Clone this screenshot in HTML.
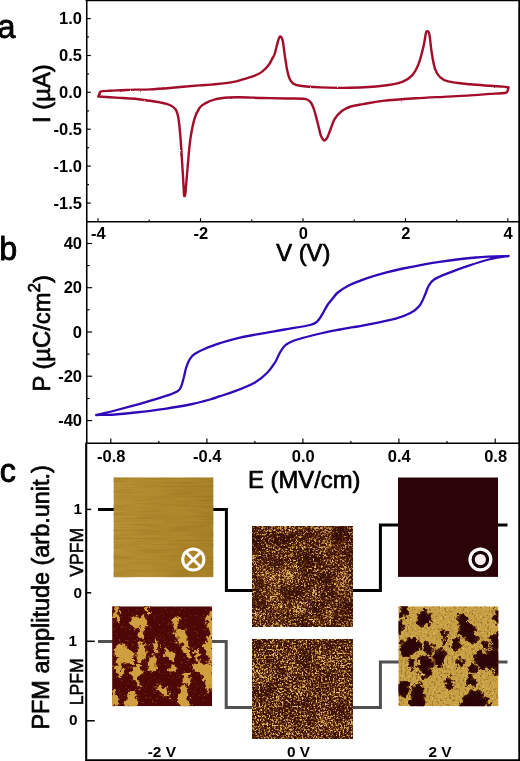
<!DOCTYPE html>
<html lang="en"><head><meta charset="utf-8"><title>Figure</title>
<style>html,body{margin:0;padding:0;background:#fff}svg{display:block}text{font-family:"Liberation Sans", Arial, sans-serif;fill:#000}.t{font-weight:bold;font-size:16.5px}.l{font-size:23.8px;stroke:#000;stroke-width:0.7px;stroke-linejoin:round}.p{font-size:32.3px;stroke:#000;stroke-width:0.8px;stroke-linejoin:round}.s{font-weight:bold;font-size:15.4px}.m{font-size:17.6px;stroke:#000;stroke-width:0.55px}</style>
</head><body>
<svg width="520" height="761" viewBox="0 0 520 761">
<defs>
<linearGradient id="gGold" x1="0" y1="0" x2="1" y2="0"><stop offset="0" stop-color="#B99134"/><stop offset="0.5" stop-color="#B28A2E"/><stop offset="1" stop-color="#AA8228"/></linearGradient>
<radialGradient id="gShadeA" cx="0.2" cy="0.6" r="0.9"><stop offset="0" stop-color="#E0A840" stop-opacity="0.08"/><stop offset="0.55" stop-color="#804010" stop-opacity="0"/><stop offset="1" stop-color="#300000" stop-opacity="0.2"/></radialGradient>
<filter id="fStreak" x="0" y="0" width="100%" height="100%" color-interpolation-filters="sRGB"><feTurbulence type="fractalNoise" baseFrequency="0.03 0.5" numOctaves="2" seed="3"/><feColorMatrix type="matrix" values="0 0 0 0 0.45  0 0 0 0 0.32  0 0 0 0 0.05  2.4 0 0 0 -0.9"/></filter>
<filter id="fRough" x="-5%" y="-5%" width="110%" height="110%" color-interpolation-filters="sRGB"><feTurbulence type="fractalNoise" baseFrequency="0.2" numOctaves="3" seed="7" result="t"/><feDisplacementMap in="SourceGraphic" in2="t" scale="11" xChannelSelector="R" yChannelSelector="G"/></filter>
<filter id="fSpeck" x="0" y="0" width="100%" height="100%" color-interpolation-filters="sRGB"><feTurbulence type="fractalNoise" baseFrequency="0.45" numOctaves="2" seed="31"/><feColorMatrix type="matrix" values="0 0 0 0 0.78  0 0 0 0 0.5  0 0 0 0 0.15  7 0 0 0 -4.5"/></filter>
<filter id="fSpeck3" x="0" y="0" width="100%" height="100%" color-interpolation-filters="sRGB"><feTurbulence type="fractalNoise" baseFrequency="0.5" numOctaves="2" seed="77"/><feColorMatrix type="matrix" values="0 0 0 0 1  0 0 0 0 0.93  0 0 0 0 0.7  8 0 0 0 -5.3"/></filter>
<filter id="fSpeck2" x="0" y="0" width="100%" height="100%" color-interpolation-filters="sRGB"><feTurbulence type="fractalNoise" baseFrequency="0.45" numOctaves="2" seed="41"/><feColorMatrix type="matrix" values="0 0 0 0 0.42  0 0 0 0 0.2  0 0 0 0 0.05  -5 0 0 0 2.3"/></filter>
<filter id="fNoiseA" x="0" y="0" width="100%" height="100%" color-interpolation-filters="sRGB"><feTurbulence type="fractalNoise" baseFrequency="0.47" numOctaves="1" seed="11"/><feColorMatrix type="matrix" values="1 0 0 0 0  1 0 0 0 0  1 0 0 0 0  0 0 0 0 1" result="a"/><feTurbulence type="fractalNoise" baseFrequency="0.83" numOctaves="1" seed="5"/><feColorMatrix type="matrix" values="1 0 0 0 0  1 0 0 0 0  1 0 0 0 0  0 0 0 0 1" result="b"/><feTurbulence type="fractalNoise" baseFrequency="0.06" numOctaves="2" seed="3"/><feColorMatrix type="matrix" values="-1 0 0 0 1  -1 0 0 0 1  -1 0 0 0 1  0 0 0 0 1" result="c"/><feComposite in="a" in2="b" operator="arithmetic" k1="0" k2="0.5" k3="0.5" k4="0" result="ab"/><feComposite in="ab" in2="c" operator="arithmetic" k1="0" k2="1" k3="0.3" k4="-0.15"/><feComponentTransfer><feFuncR type="table" tableValues="0.18 0.18 0.18 0.18 0.18 0.19 0.19 0.19 0.19 0.19 0.19 0.19 0.19 0.20 0.20 0.20 0.20 0.21 0.24 0.27 0.32 0.40 0.50 0.61 0.73 0.81 0.86 0.90 0.90 0.91 0.91 0.92 0.92 0.93 0.93 0.94 0.94 0.95 0.95 0.96 0.96"/><feFuncG type="table" tableValues="0.04 0.04 0.04 0.04 0.04 0.04 0.04 0.04 0.04 0.05 0.05 0.05 0.05 0.05 0.05 0.05 0.05 0.06 0.08 0.10 0.14 0.20 0.28 0.40 0.53 0.63 0.69 0.75 0.77 0.77 0.78 0.79 0.80 0.81 0.81 0.82 0.83 0.84 0.84 0.85 0.86"/><feFuncB type="table" tableValues="0.02 0.02 0.02 0.02 0.02 0.02 0.02 0.02 0.02 0.02 0.02 0.02 0.02 0.02 0.02 0.02 0.02 0.02 0.03 0.03 0.05 0.07 0.11 0.17 0.25 0.31 0.37 0.43 0.45 0.46 0.48 0.49 0.50 0.51 0.53 0.54 0.55 0.56 0.58 0.59 0.60"/><feFuncA type="linear" slope="0" intercept="1"/></feComponentTransfer></filter>
<filter id="fNoiseB" x="0" y="0" width="100%" height="100%" color-interpolation-filters="sRGB"><feTurbulence type="fractalNoise" baseFrequency="0.51" numOctaves="1" seed="23"/><feColorMatrix type="matrix" values="1 0 0 0 0  1 0 0 0 0  1 0 0 0 0  0 0 0 0 1" result="a"/><feTurbulence type="fractalNoise" baseFrequency="0.79" numOctaves="1" seed="8"/><feColorMatrix type="matrix" values="1 0 0 0 0  1 0 0 0 0  1 0 0 0 0  0 0 0 0 1" result="b"/><feTurbulence type="fractalNoise" baseFrequency="0.06" numOctaves="2" seed="9"/><feColorMatrix type="matrix" values="1 0 0 0 0  1 0 0 0 0  1 0 0 0 0  0 0 0 0 1" result="c"/><feComposite in="a" in2="b" operator="arithmetic" k1="0" k2="0.5" k3="0.5" k4="0" result="ab"/><feComposite in="ab" in2="c" operator="arithmetic" k1="0" k2="1" k3="0.2" k4="-0.1"/><feComponentTransfer><feFuncR type="table" tableValues="0.18 0.18 0.18 0.18 0.18 0.19 0.19 0.19 0.19 0.19 0.19 0.19 0.19 0.20 0.20 0.20 0.20 0.22 0.25 0.29 0.35 0.43 0.54 0.66 0.76 0.83 0.87 0.90 0.91 0.91 0.91 0.92 0.92 0.93 0.93 0.94 0.94 0.95 0.95 0.96 0.96"/><feFuncG type="table" tableValues="0.04 0.04 0.04 0.04 0.04 0.04 0.04 0.04 0.04 0.05 0.05 0.05 0.05 0.05 0.05 0.05 0.05 0.06 0.08 0.12 0.16 0.22 0.33 0.45 0.57 0.66 0.72 0.76 0.77 0.78 0.78 0.79 0.80 0.81 0.81 0.82 0.83 0.84 0.84 0.85 0.86"/><feFuncB type="table" tableValues="0.02 0.02 0.02 0.02 0.02 0.02 0.02 0.02 0.02 0.02 0.02 0.02 0.02 0.02 0.02 0.02 0.02 0.02 0.03 0.04 0.05 0.08 0.13 0.20 0.27 0.34 0.40 0.44 0.46 0.47 0.48 0.49 0.50 0.52 0.53 0.54 0.55 0.56 0.58 0.59 0.60"/><feFuncA type="linear" slope="0" intercept="1"/></feComponentTransfer></filter>
<filter id="fJit" x="-2%" y="-5%" width="104%" height="110%"><feTurbulence type="fractalNoise" baseFrequency="0.3" numOctaves="2" seed="4" result="t"/><feDisplacementMap in="SourceGraphic" in2="t" scale="1.5" xChannelSelector="R" yChannelSelector="G"/></filter>
</defs>
<rect width="520" height="761" fill="#fff"/>
<g stroke="#000" fill="none">
<line x1="86.75" y1="0" x2="86.75" y2="443.3" stroke-width="1.55"/>
<line x1="86.2" y1="442.6" x2="86.2" y2="761" stroke-width="2.1"/>
<line x1="519.2" y1="0" x2="519.2" y2="761" stroke-width="1.8"/>
<line x1="85.6" y1="0.6" x2="520" y2="0.6" stroke-width="1.5"/>
<line x1="86.6" y1="221.8" x2="520" y2="221.8" stroke-width="1.4"/>
<line x1="86.6" y1="443.3" x2="520" y2="443.3" stroke-width="1.4"/>
<line x1="85.6" y1="760.2" x2="520" y2="760.2" stroke-width="1.8"/>
</g>
<g stroke="#000" stroke-width="1.15">
<line x1="86.6" y1="18.6" x2="90.8" y2="18.6"/>
<line x1="86.6" y1="55.5" x2="90.8" y2="55.5"/>
<line x1="86.6" y1="92.3" x2="90.8" y2="92.3"/>
<line x1="86.6" y1="129.2" x2="90.8" y2="129.2"/>
<line x1="86.6" y1="166.1" x2="90.8" y2="166.1"/>
<line x1="86.6" y1="203.1" x2="90.8" y2="203.1"/>
<line x1="86.6" y1="37.0" x2="89.0" y2="37.0"/>
<line x1="86.6" y1="74.0" x2="89.0" y2="74.0"/>
<line x1="86.6" y1="110.9" x2="89.0" y2="110.9"/>
<line x1="86.6" y1="147.7" x2="89.0" y2="147.7"/>
<line x1="86.6" y1="184.6" x2="89.0" y2="184.6"/>
<line x1="86.6" y1="221.5" x2="89.0" y2="221.5"/>
<line x1="98.0" y1="221.8" x2="98.0" y2="218.2"/>
<line x1="200.5" y1="221.8" x2="200.5" y2="218.2"/>
<line x1="303.0" y1="221.8" x2="303.0" y2="218.2"/>
<line x1="405.5" y1="221.8" x2="405.5" y2="218.2"/>
<line x1="507.8" y1="221.8" x2="507.8" y2="218.2"/>
<line x1="149.2" y1="221.8" x2="149.2" y2="219.6"/>
<line x1="251.7" y1="221.8" x2="251.7" y2="219.6"/>
<line x1="354.2" y1="221.8" x2="354.2" y2="219.6"/>
<line x1="456.7" y1="221.8" x2="456.7" y2="219.6"/>
<line x1="86.6" y1="243.5" x2="92.2" y2="243.5"/>
<line x1="86.6" y1="287.7" x2="92.2" y2="287.7"/>
<line x1="86.6" y1="332.0" x2="92.2" y2="332.0"/>
<line x1="86.6" y1="376.2" x2="92.2" y2="376.2"/>
<line x1="86.6" y1="420.6" x2="92.2" y2="420.6"/>
<line x1="86.6" y1="265.6" x2="89.6" y2="265.6"/>
<line x1="86.6" y1="309.8" x2="89.6" y2="309.8"/>
<line x1="86.6" y1="354.1" x2="89.6" y2="354.1"/>
<line x1="86.6" y1="398.5" x2="89.6" y2="398.5"/>
<line x1="110.8" y1="443.3" x2="110.8" y2="438.5"/>
<line x1="206.9" y1="443.3" x2="206.9" y2="438.5"/>
<line x1="302.9" y1="443.3" x2="302.9" y2="438.5"/>
<line x1="398.9" y1="443.3" x2="398.9" y2="438.5"/>
<line x1="495.2" y1="443.3" x2="495.2" y2="438.5"/>
<line x1="158.8" y1="443.3" x2="158.8" y2="441.1"/>
<line x1="254.9" y1="443.3" x2="254.9" y2="441.1"/>
<line x1="350.9" y1="443.3" x2="350.9" y2="441.1"/>
<line x1="447.0" y1="443.3" x2="447.0" y2="441.1"/>
<line x1="86.6" y1="509.4" x2="91.2" y2="509.4" stroke-width="1.5"/>
<line x1="86.6" y1="592.8" x2="91.2" y2="592.8" stroke-width="1.5"/>
<line x1="86.6" y1="641.3" x2="94.8" y2="641.3" stroke-width="1.5"/>
<line x1="86.6" y1="720.8" x2="94.8" y2="720.8" stroke-width="1.5"/>
</g>
<g class="t" text-anchor="end">
<text x="82" y="24.2">1.0</text>
<text x="82" y="61.1">0.5</text>
<text x="82" y="97.9">0.0</text>
<text x="82" y="134.8">-0.5</text>
<text x="82" y="171.7">-1.0</text>
<text x="82" y="208.7">-1.5</text>
<text x="82" y="249.1">40</text>
<text x="82" y="293.3">20</text>
<text x="82" y="337.6">0</text>
<text x="82" y="381.8">-20</text>
<text x="82" y="426.2">-40</text>
</g>
<g class="t" text-anchor="middle">
<text x="98.4" y="239.4">-4</text>
<text x="200.9" y="239.4">-2</text>
<text x="303.4" y="239.4">0</text>
<text x="405.9" y="239.4">2</text>
<text x="508.2" y="239.4">4</text>
<text x="111.2" y="461.7">-0.8</text>
<text x="207.3" y="461.7">-0.4</text>
<text x="303.3" y="461.7">0.0</text>
<text x="399.3" y="461.7">0.4</text>
<text x="495.6" y="461.7">0.8</text>
</g>
<text class="l" text-anchor="middle" x="303.3" y="261">V (V)</text>
<text class="l" text-anchor="middle" x="304.3" y="487.7">E (MV/cm)</text>
<text class="l" text-anchor="middle" transform="translate(49.5,93.6) rotate(-90)">I (µA)</text>
<text class="l" text-anchor="middle" transform="translate(49.5,333.3) rotate(-90)">P (µC/cm<tspan dy="-9.8" font-size="17px">2</tspan><tspan dy="9.8">)</tspan></text>
<text class="l" style="font-size:23.45px" text-anchor="middle" transform="translate(48.7,597.4) rotate(-90)">PFM amplitude (arb.unit.)</text>
<text class="m" text-anchor="middle" transform="translate(82.6,552.2) rotate(-90)">VPFM</text>
<text class="m" text-anchor="middle" transform="translate(82.6,681.8) rotate(-90)">LPFM</text>
<text class="p" x="-2.5" y="37.6">a</text>
<text class="p" x="-0.7" y="259.6">b</text>
<text class="p" x="-0.2" y="481.6" style="stroke-width:0.9px">c</text>
<g class="s" text-anchor="middle">
<text x="77.7" y="514.4">1</text>
<text x="77.8" y="597.8">0</text>
<text x="72.7" y="645.8">1</text>
<text x="73.2" y="725.4">0</text>
<text x="161.8" y="757">-2 V</text>
<text x="298.5" y="757">0 V</text>
<text x="440" y="757">2 V</text>
</g>
<path d="M98.3,96.5 C98.5,96.0 99.0,94.6 99.4,93.8 C99.9,93.0 99.2,91.9 101.0,91.4 C102.8,90.9 106.5,90.9 110.0,90.7 C113.5,90.5 117.8,90.4 122.0,90.2 C126.2,90.0 130.3,89.7 135.0,89.6 C139.7,89.5 143.3,89.8 150.0,89.4 C156.7,89.1 166.8,88.2 175.0,87.5 C183.2,86.8 193.3,85.9 199.3,85.4 C205.3,84.9 205.7,85.1 211.2,84.6 C216.7,84.0 227.0,83.0 232.3,82.1 C237.6,81.2 239.4,80.4 242.9,79.4 C246.4,78.4 250.3,77.5 253.5,76.2 C256.7,75.0 259.4,73.7 261.9,71.9 C264.4,70.1 266.5,67.9 268.3,65.6 C270.1,63.3 271.4,60.2 272.5,58.2 C273.6,56.2 273.9,56.4 274.8,53.5 C275.7,50.6 277.2,43.6 278.1,40.8 C279.0,38.0 279.4,36.5 280.2,36.5 C281.0,36.5 281.9,37.4 282.7,40.8 C283.5,44.2 284.2,51.9 285.0,56.9 C285.8,61.9 286.5,67.1 287.3,70.8 C288.1,74.5 288.6,76.7 289.6,78.8 C290.6,80.9 291.4,82.3 293.1,83.5 C294.8,84.7 295.4,85.1 300.0,85.8 C304.6,86.5 312.5,87.1 320.8,87.4 C329.1,87.7 339.7,88.1 350.0,87.8 C360.3,87.5 374.0,86.8 382.7,85.8 C391.4,84.8 397.4,83.6 402.3,81.9 C407.2,80.2 409.4,78.4 412.1,75.4 C414.8,72.4 416.7,68.8 418.6,63.9 C420.5,59.0 422.4,51.1 423.6,46.0 C424.8,40.9 425.2,36.0 425.8,33.5 C426.4,31.0 426.9,31.0 427.5,31.2 C428.1,31.4 428.7,30.9 429.4,34.5 C430.1,38.0 430.8,46.8 431.7,52.5 C432.6,58.2 433.6,64.7 435.0,68.8 C436.4,72.9 437.7,74.9 439.9,77.0 C442.1,79.1 443.1,80.1 448.1,81.3 C453.1,82.5 463.0,83.5 470.0,84.3 C477.0,85.0 484.5,85.4 490.0,85.8 C495.5,86.2 499.9,86.3 503.0,86.6 C506.1,86.9 507.7,87.3 508.6,87.4 M508.6,87.4 C508.4,87.9 508.1,89.7 507.6,90.6 C507.1,91.5 508.5,92.2 505.6,92.7 C502.7,93.2 495.9,93.5 490.0,93.9 C484.1,94.4 477.0,95.0 470.0,95.4 C463.0,95.9 457.2,96.1 448.1,96.6 C439.0,97.1 426.3,97.6 415.4,98.3 C404.5,99.0 391.4,99.9 382.7,100.9 C374.0,101.9 368.4,103.2 363.1,104.1 C357.8,105.0 354.4,105.3 350.8,106.5 C347.2,107.7 344.2,109.1 341.5,111.2 C338.8,113.3 336.5,115.9 334.6,119.2 C332.7,122.5 331.2,127.7 330.0,130.8 C328.8,133.9 328.1,136.1 327.2,137.7 C326.3,139.3 325.6,140.2 324.9,140.5 C324.2,140.8 323.8,140.3 323.1,139.5 C322.4,138.7 321.8,138.4 320.8,135.4 C319.8,132.4 318.5,125.9 317.3,121.5 C316.1,117.1 315.0,112.1 313.8,108.8 C312.6,105.5 311.9,103.6 310.4,101.9 C308.9,100.2 308.7,99.5 304.6,98.9 C300.5,98.3 292.9,98.7 286.0,98.5 C279.1,98.3 270.7,98.2 263.0,98.0 C255.3,97.8 245.7,97.4 240.0,97.3 C234.3,97.2 233.1,97.2 228.9,97.5 C224.8,97.8 219.1,98.4 215.1,99.4 C211.1,100.4 207.8,101.9 205.2,103.4 C202.6,104.9 201.1,105.7 199.3,108.3 C197.5,110.9 195.9,114.1 194.4,119.2 C192.9,124.3 191.6,130.7 190.4,138.9 C189.2,147.1 188.3,159.6 187.5,168.5 C186.7,177.4 186.0,187.5 185.5,192.1 C185.0,196.7 184.8,196.0 184.5,196.0 C184.2,196.0 184.2,196.7 183.9,192.1 C183.6,187.5 183.1,177.4 182.5,168.5 C181.9,159.6 181.2,147.1 180.6,138.9 C179.9,130.7 179.4,124.1 178.6,119.2 C177.8,114.3 177.1,111.7 175.6,109.3 C174.1,106.9 172.3,106.2 169.7,105.0 C167.1,103.8 163.6,103.2 159.9,102.4 C156.2,101.7 151.7,101.1 147.5,100.5 C143.3,99.9 139.2,99.2 135.0,98.8 C130.8,98.4 126.7,98.2 122.5,98.0 C118.3,97.8 114.0,97.5 110.0,97.3 C106.0,97.0 100.2,96.6 98.3,96.5" fill="none" stroke="#A20C2A" stroke-width="2.4" stroke-linejoin="round" stroke-linecap="round" filter="url(#fJit)"/>
<path d="M96.2,415.0 C99.4,414.2 107.7,412.4 115.0,410.5 C122.3,408.6 131.7,406.1 140.0,403.8 C148.3,401.4 158.8,398.3 165.0,396.2 C171.2,394.2 174.8,392.9 177.5,391.2 C180.2,389.6 180.2,388.5 181.2,386.2 C182.3,384.0 182.9,380.6 183.8,377.5 C184.6,374.4 185.2,370.6 186.2,367.5 C187.3,364.4 188.5,361.0 190.0,358.8 C191.5,356.5 192.5,355.4 195.0,353.8 C197.5,352.1 200.8,350.5 205.0,348.8 C209.2,347.0 215.0,344.9 220.0,343.2 C225.0,341.5 228.3,340.3 235.0,338.8 C241.7,337.2 251.7,335.3 260.0,333.8 C268.3,332.2 276.7,331.0 285.0,329.5 C293.3,328.0 304.6,326.4 310.0,325.0 C315.4,323.6 315.4,323.1 317.5,321.2 C319.6,319.4 320.8,316.5 322.5,313.8 C324.2,311.0 325.8,307.5 327.5,305.0 C329.2,302.5 330.9,300.8 332.5,298.8 C334.1,296.8 334.7,295.2 337.3,293.0 C339.9,290.8 343.4,288.1 348.3,285.7 C353.2,283.3 360.4,280.5 366.5,278.4 C372.6,276.3 378.7,274.5 384.8,272.9 C390.9,271.2 394.0,270.3 403.1,268.5 C412.2,266.7 427.4,263.7 439.6,261.9 C451.8,260.1 464.6,258.5 476.1,257.5 C487.6,256.5 503.2,256.2 508.6,256.0 M508.6,256.0 C505.6,256.5 497.4,257.4 490.8,259.0 C484.2,260.6 476.1,263.2 468.8,265.6 C461.5,268.0 452.7,271.3 446.9,273.6 C441.1,275.9 437.1,277.5 434.1,279.5 C431.1,281.5 430.2,283.1 428.7,285.7 C427.2,288.2 426.5,291.4 425.0,294.8 C423.5,298.2 421.9,302.8 419.5,305.8 C417.1,308.9 414.3,311.0 410.4,313.1 C406.4,315.2 403.1,316.7 395.8,318.6 C388.5,320.6 375.8,323.0 366.5,324.8 C357.2,326.6 347.3,328.1 340.0,329.5 C332.7,330.9 328.8,331.6 322.5,333.0 C316.2,334.4 307.5,336.6 302.5,338.0 C297.5,339.4 295.4,340.0 292.5,341.2 C289.6,342.5 287.1,343.6 285.0,345.5 C282.9,347.4 281.7,349.7 280.0,352.5 C278.3,355.3 277.1,359.2 275.0,362.5 C272.9,365.8 270.8,369.2 267.5,372.5 C264.2,375.8 260.4,379.4 255.0,382.5 C249.6,385.6 240.8,389.0 235.0,391.2 C229.2,393.5 224.2,394.9 220.0,396.2 C215.8,397.6 215.0,398.1 210.0,399.5 C205.0,400.9 197.5,403.0 190.0,404.5 C182.5,406.0 173.3,407.5 165.0,408.8 C156.7,410.0 148.3,411.0 140.0,412.0 C131.7,413.0 122.3,414.0 115.0,414.5 C107.7,415.0 99.4,414.9 96.2,415.0" fill="none" stroke="#300AB8" stroke-width="2.3" stroke-linejoin="round" stroke-linecap="round"/>
<path d="M98,509.4 H226.4 V590.6 H380.4 V525 H507.5" fill="none" stroke="#000" stroke-width="3"/>
<path d="M98,641.5 H226.2 V707.6 H380.4 V661.9 H507.5" fill="none" stroke="#505050" stroke-width="3"/>
<g id="imgs">
<rect x="113.7" y="477.5" width="99.6" height="99.6" fill="url(#gGold)"/>
<rect x="113.7" y="477.5" width="99.6" height="99.6" filter="url(#fStreak)" opacity="0.22"/>
<rect x="252.2" y="526.2" width="100" height="100" filter="url(#fNoiseA)"/>
<rect x="252.2" y="526.2" width="100" height="100" fill="url(#gShadeA)"/>
<rect x="398" y="477.5" width="100" height="99.4" fill="#2A0406"/>
<svg x="112.1" y="606.3" width="100" height="99.9" viewBox="0 0 100 100" preserveAspectRatio="none">
<rect width="100" height="100" fill="#4C0706"/>
<g filter="url(#fRough)" fill="#D0A040" stroke="#64190A" stroke-width="1.2" stroke-linejoin="round">
<path d="M1.9,0.0C2.8,-1.0 5.8,-1.3 6.7,0.0C7.6,1.3 7.5,5.1 7.3,7.7C7.1,10.3 6.5,14.4 5.8,15.4C5.0,16.3 3.6,15.1 2.9,13.5C2.2,11.9 1.7,8.0 1.5,5.8C1.4,3.5 1.1,1.0 1.9,0.0Z"/>
<path d="M20.2,11.5C21.3,10.1 23.1,9.0 25.0,8.7C26.9,8.3 29.8,8.7 31.7,9.6C33.7,10.6 35.9,12.7 36.5,14.4C37.2,16.2 36.5,18.9 35.6,20.2C34.6,21.5 31.4,20.7 30.8,22.1C30.1,23.6 32.1,27.1 31.7,28.8C31.4,30.6 29.8,32.4 28.8,32.7C27.9,33.0 26.4,32.2 26.0,30.8C25.5,29.3 26.8,25.6 26.0,24.0C25.2,22.4 22.4,22.3 21.2,21.2C19.9,20.0 18.4,18.9 18.3,17.3C18.1,15.7 19.1,13.0 20.2,11.5Z"/>
<path d="M33.7,1.0C34.4,0.0 36.7,-0.8 37.5,0.0C38.3,0.8 38.8,4.3 38.5,5.8C38.1,7.2 36.5,8.7 35.6,8.7C34.7,8.7 33.4,7.1 33.1,5.8C32.8,4.5 32.9,1.9 33.7,1.0Z"/>
<path d="M2.9,41.3C3.8,39.3 5.9,37.8 7.7,37.5C9.5,37.2 11.7,38.5 13.5,39.4C15.2,40.4 16.7,41.8 18.3,43.3C19.9,44.7 22.6,46.2 23.1,48.1C23.6,50.0 22.3,53.2 21.2,54.8C20.0,56.4 17.9,57.5 16.3,57.7C14.7,57.9 12.7,55.4 11.5,55.8C10.4,56.1 9.5,58.0 9.6,59.6C9.8,61.2 12.5,63.6 12.5,65.4C12.5,67.1 10.9,69.6 9.6,70.2C8.3,70.8 6.1,70.4 4.8,69.2C3.5,68.1 2.1,65.7 1.9,63.5C1.8,61.2 3.8,58.0 3.8,55.8C3.8,53.5 2.1,52.4 1.9,50.0C1.8,47.6 1.9,43.4 2.9,41.3Z"/>
<path d="M28.8,35.6C30.0,34.5 32.7,35.1 33.7,36.5C34.6,38.0 34.8,41.7 34.6,44.2C34.5,46.8 33.8,50.0 32.7,51.9C31.6,53.8 29.3,55.6 27.9,55.8C26.4,55.9 24.7,54.3 24.0,52.9C23.4,51.4 23.6,48.7 24.0,47.1C24.5,45.5 26.1,45.2 26.9,43.3C27.7,41.3 27.7,36.7 28.8,35.6Z"/>
<path d="M21.2,59.6C22.4,57.7 26.3,57.4 27.9,57.7C29.5,58.0 30.6,59.9 30.8,61.5C30.9,63.1 29.5,65.4 28.8,67.3C28.2,69.2 26.8,71.2 26.9,73.1C27.1,75.0 29.8,77.4 29.8,78.8C29.8,80.3 28.0,82.1 26.9,81.7C25.8,81.4 24.2,79.0 23.1,76.9C22.0,74.8 20.5,72.1 20.2,69.2C19.9,66.3 19.9,61.5 21.2,59.6Z"/>
<path d="M37.5,51.0C38.7,49.8 41.0,49.2 42.3,50.0C43.6,50.8 44.9,53.5 45.2,55.8C45.5,58.0 45.0,61.7 44.2,63.5C43.4,65.2 41.7,66.5 40.4,66.3C39.1,66.2 37.4,64.1 36.5,62.5C35.7,60.9 35.0,58.7 35.2,56.7C35.4,54.8 36.3,52.1 37.5,51.0Z"/>
<path d="M42.3,33.7C43.2,33.0 45.4,34.1 46.2,35.6C47.0,37.0 47.3,40.2 47.1,42.3C47.0,44.4 46.1,47.4 45.2,48.1C44.3,48.7 42.7,47.6 41.9,46.2C41.2,44.7 40.7,41.5 40.8,39.4C40.8,37.3 41.4,34.3 42.3,33.7Z"/>
<path d="M51.5,39.4C52.6,39.1 55.4,40.1 56.7,41.3C58.1,42.6 58.6,45.4 59.6,47.1C60.7,48.9 62.9,50.6 63.1,51.9C63.2,53.2 61.8,54.6 60.6,54.8C59.4,55.0 57.2,54.0 55.8,52.9C54.3,51.8 52.8,49.7 51.9,48.1C51.0,46.5 50.4,44.7 50.4,43.3C50.3,41.8 50.5,39.7 51.5,39.4Z"/>
<path d="M60.6,11.5C61.5,10.4 64.3,9.6 65.4,10.6C66.4,11.5 67.1,14.9 66.9,17.3C66.8,19.7 65.4,24.0 64.4,25.0C63.5,26.0 62.0,24.4 61.2,23.1C60.4,21.8 59.7,19.2 59.6,17.3C59.5,15.4 59.6,12.7 60.6,11.5Z"/>
<path d="M65.4,22.1C66.8,21.2 69.6,20.4 71.2,21.2C72.8,22.0 74.2,24.7 75.0,26.9C75.8,29.2 75.5,32.1 76.0,34.6C76.4,37.2 77.4,39.7 77.9,42.3C78.4,44.9 79.2,48.3 78.8,50.0C78.5,51.7 77.1,52.8 76.0,52.3C74.8,51.8 73.2,49.4 72.1,47.1C71.0,44.8 70.5,40.7 69.2,38.5C67.9,36.2 65.5,35.6 64.4,33.7C63.3,31.7 62.3,28.8 62.5,26.9C62.7,25.0 63.9,23.1 65.4,22.1Z"/>
<path d="M95.2,7.7C96.2,5.8 100.0,-0.6 101.0,7.7C101.9,16.0 101.8,49.7 101.0,57.7C100.2,65.7 97.3,57.4 96.2,55.8C95.0,54.2 95.2,50.5 94.2,48.1C93.3,45.7 90.7,43.3 90.4,41.3C90.1,39.4 91.4,37.7 92.3,36.5C93.2,35.4 95.2,37.5 95.6,34.6C96.0,31.7 94.7,23.7 94.6,19.2C94.6,14.7 94.1,9.6 95.2,7.7Z"/>
<path d="M83.7,44.2C84.5,43.6 86.6,43.9 87.5,45.2C88.4,46.5 89.0,49.8 88.8,51.9C88.7,54.0 87.5,57.1 86.5,57.7C85.6,58.3 83.8,57.2 83.1,55.8C82.4,54.3 82.2,51.0 82.3,49.0C82.4,47.1 82.8,44.9 83.7,44.2Z"/>
<path d="M85.6,56.7C87.3,56.1 90.2,54.6 92.3,54.8C94.4,55.0 96.6,55.9 98.1,57.7C99.5,59.5 100.5,61.2 101.0,65.4C101.4,69.6 101.9,79.3 101.0,82.7C100.0,86.1 96.6,86.5 95.2,85.6C93.8,84.6 93.3,79.6 92.3,76.9C91.3,74.2 90.7,71.0 89.4,69.2C88.1,67.5 86.1,67.3 84.6,66.3C83.2,65.4 81.2,64.7 80.8,63.5C80.3,62.2 80.9,59.8 81.7,58.7C82.5,57.5 83.8,57.4 85.6,56.7Z"/>
<path d="M71.2,67.3C72.1,66.0 74.6,65.7 76.0,66.3C77.3,67.0 78.9,69.4 79.2,71.2C79.6,72.9 78.8,75.6 77.9,76.9C77.0,78.2 75.3,79.3 74.0,78.8C72.8,78.4 70.7,76.0 70.2,74.0C69.7,72.1 70.2,68.6 71.2,67.3Z"/>
<path d="M67.3,80.8C68.4,79.0 71.5,79.2 73.1,79.8C74.7,80.4 76.4,82.5 76.9,84.6C77.4,86.7 75.8,89.6 76.0,92.3C76.1,95.0 79.3,99.5 77.9,101.0C76.4,102.4 69.2,102.7 67.3,101.0C65.4,99.2 66.3,93.8 66.3,90.4C66.3,87.0 66.2,82.5 67.3,80.8Z"/>
<path d="M16.3,87.5C17.7,86.4 20.5,85.9 22.1,86.5C23.7,87.2 25.5,88.9 26.0,91.3C26.4,93.8 27.1,99.4 25.0,101.0C22.9,102.6 15.3,102.2 13.5,101.0C11.6,99.7 13.4,95.5 13.8,93.3C14.3,91.0 15.0,88.6 16.3,87.5Z"/>
<path d="M44.2,80.8C44.7,79.5 47.4,78.5 49.0,78.8C50.6,79.2 52.4,81.6 53.8,82.7C55.3,83.8 57.4,84.3 57.7,85.6C58.0,86.9 57.1,89.7 55.8,90.4C54.5,91.0 51.6,90.1 50.0,89.4C48.4,88.8 47.1,88.0 46.2,86.5C45.2,85.1 43.7,82.1 44.2,80.8Z"/>
<path d="M-1.0,86.5C-0.2,84.0 2.7,84.6 3.8,85.6C5.0,86.5 5.8,89.7 5.8,92.3C5.8,94.9 5.0,99.5 3.8,101.0C2.7,102.4 -0.2,103.4 -1.0,101.0C-1.8,98.6 -1.8,89.1 -1.0,86.5Z"/>
<path d="M54.8,59.6C55.4,58.7 59.0,58.2 60.6,58.7C62.2,59.1 64.3,61.3 64.4,62.5C64.6,63.7 62.8,65.4 61.5,65.8C60.3,66.1 57.9,65.4 56.7,64.4C55.6,63.4 54.2,60.6 54.8,59.6Z"/>
</g>
<rect width="100" height="100" filter="url(#fSpeck)" opacity="0.4"/>
</svg>
<rect x="252.2" y="639" width="100" height="99.9" filter="url(#fNoiseB)"/>
<svg x="398.4" y="606.3" width="100" height="99.9" viewBox="0 0 100 100" preserveAspectRatio="none">
<rect width="100" height="100" fill="#C8A244"/>
<rect width="100" height="100" filter="url(#fSpeck2)" opacity="0.42"/>
<rect width="100" height="100" filter="url(#fSpeck3)" opacity="0.5"/>
<g filter="url(#fRough)" fill="#2C0407" stroke="#4A1C0A" stroke-width="1.6" stroke-linejoin="round">
<path d="M2.9,1.0C3.8,-0.5 7.5,-1.8 8.7,-1.0C9.8,-0.2 9.9,4.0 9.6,5.8C9.3,7.5 7.9,9.3 6.7,9.6C5.6,9.9 3.5,9.1 2.9,7.7C2.2,6.2 1.9,2.4 2.9,1.0Z"/>
<path d="M22.1,6.7C23.2,6.1 25.3,5.1 26.9,5.8C28.5,6.4 31.1,8.7 31.7,10.6C32.4,12.5 31.7,15.9 30.8,17.3C29.8,18.8 27.6,19.1 26.0,19.2C24.4,19.4 22.3,19.2 21.2,18.3C20.0,17.3 19.0,14.9 18.8,13.5C18.7,12.0 19.6,10.7 20.2,9.6C20.7,8.5 21.0,7.4 22.1,6.7Z"/>
<path d="M61.5,6.7C62.7,5.8 65.2,6.2 66.3,7.7C67.5,9.1 67.1,13.6 68.3,15.4C69.4,17.1 71.6,16.7 73.1,18.3C74.5,19.9 76.0,22.6 76.9,25.0C77.9,27.4 78.8,30.6 78.8,32.7C78.8,34.8 78.2,36.9 76.9,37.5C75.6,38.1 72.9,37.5 71.2,36.5C69.4,35.6 67.8,33.0 66.3,31.7C64.9,30.4 63.5,30.6 62.5,28.8C61.5,27.1 61.1,23.7 60.6,21.2C60.1,18.6 59.5,15.9 59.6,13.5C59.8,11.1 60.4,7.7 61.5,6.7Z"/>
<path d="M5.8,33.7C7.4,32.9 11.2,32.4 13.5,32.7C15.7,33.0 17.8,34.1 19.2,35.6C20.7,37.0 22.3,39.7 22.1,41.3C22.0,42.9 19.7,44.4 18.3,45.2C16.8,46.0 14.7,45.0 13.5,46.2C12.2,47.3 12.0,51.1 10.6,51.9C9.1,52.7 6.1,52.2 4.8,51.0C3.5,49.7 3.0,46.5 2.9,44.2C2.7,42.0 3.4,39.3 3.8,37.5C4.3,35.7 4.2,34.5 5.8,33.7Z"/>
<path d="M26.9,38.5C27.9,37.3 30.4,36.2 31.7,36.5C33.0,36.9 34.4,38.8 34.6,40.4C34.8,42.0 34.0,45.0 33.1,46.2C32.1,47.3 30.0,47.6 28.8,47.1C27.7,46.6 26.3,44.7 26.0,43.3C25.6,41.8 26.0,39.6 26.9,38.5Z"/>
<path d="M37.5,45.2C38.8,44.2 41.8,43.2 43.3,43.8C44.7,44.5 45.9,46.9 46.2,49.0C46.4,51.2 45.6,55.0 44.6,56.7C43.7,58.5 41.7,59.8 40.4,59.6C39.0,59.5 37.3,57.4 36.5,55.8C35.7,54.2 35.4,51.8 35.6,50.0C35.7,48.2 36.2,46.2 37.5,45.2Z"/>
<path d="M21.2,51.9C22.4,51.0 26.0,50.1 27.9,50.4C29.8,50.7 31.4,52.5 32.7,53.8C34.0,55.2 35.7,57.1 35.6,58.7C35.4,60.3 32.5,61.5 31.7,63.5C30.9,65.4 31.7,68.8 30.8,70.2C29.8,71.5 27.2,72.3 26.0,71.5C24.7,70.7 24.2,67.1 23.1,65.4C22.0,63.7 19.7,63.1 19.2,61.5C18.8,59.9 19.9,57.4 20.2,55.8C20.5,54.2 19.9,52.8 21.2,51.9Z"/>
<path d="M54.8,33.7C55.8,32.5 58.4,31.1 59.6,31.7C60.8,32.4 61.9,35.6 61.9,37.5C61.9,39.4 60.6,42.2 59.6,43.3C58.6,44.3 56.8,44.6 55.8,43.8C54.7,43.0 53.6,40.2 53.5,38.5C53.3,36.8 53.8,34.8 54.8,33.7Z"/>
<path d="M76.9,46.2C78.1,45.2 80.9,44.9 82.7,45.2C84.5,45.5 86.2,48.2 87.5,48.1C88.8,47.9 88.9,45.0 90.4,44.2C91.8,43.4 94.4,42.9 96.2,43.3C97.9,43.6 100.2,42.1 101.0,46.2C101.8,50.2 101.9,63.9 101.0,67.3C100.0,70.7 96.6,67.6 95.2,66.3C93.8,65.1 93.6,60.1 92.3,59.6C91.0,59.1 89.1,63.1 87.5,63.5C85.9,63.8 84.1,62.8 82.7,61.5C81.2,60.3 80.1,57.5 78.8,55.8C77.6,54.0 75.7,52.6 75.4,51.0C75.1,49.4 75.7,47.1 76.9,46.2Z"/>
<path d="M96.2,5.8C96.8,4.0 100.2,2.9 101.0,4.8C101.8,6.7 101.6,15.5 101.0,17.3C100.3,19.1 97.9,17.3 97.1,15.4C96.3,13.5 95.5,7.5 96.2,5.8Z"/>
<path d="M94.2,28.8C95.7,27.4 99.8,24.7 101.0,26.9C102.1,29.2 101.9,39.9 101.0,42.3C100.0,44.7 96.6,42.5 95.2,41.3C93.8,40.2 92.5,37.7 92.3,35.6C92.1,33.5 92.8,30.3 94.2,28.8Z"/>
<path d="M59.2,53.8C59.9,53.0 62.4,52.5 63.5,52.9C64.6,53.3 65.8,55.1 65.8,56.2C65.7,57.2 64.2,59.0 63.1,59.2C62.0,59.5 59.9,58.6 59.2,57.7C58.6,56.8 58.5,54.6 59.2,53.8Z"/>
<path d="M72.1,58.7C72.8,57.4 75.6,57.1 76.9,57.7C78.2,58.3 79.8,61.1 79.8,62.5C79.8,63.9 78.1,65.9 76.9,66.3C75.7,66.8 73.5,66.7 72.7,65.4C71.9,64.1 71.4,59.9 72.1,58.7Z"/>
<path d="M68.3,71.2C69.1,69.9 72.6,69.7 74.0,70.2C75.5,70.7 76.8,72.7 76.9,74.0C77.1,75.4 76.3,77.8 75.0,78.5C73.7,79.1 70.4,79.1 69.2,77.9C68.1,76.7 67.5,72.4 68.3,71.2Z"/>
<path d="M47.1,72.1C47.8,70.4 50.7,70.0 51.9,70.8C53.1,71.6 54.2,74.9 54.2,76.9C54.2,78.9 53.0,82.1 51.9,82.7C50.8,83.3 48.5,82.5 47.7,80.8C46.9,79.0 46.4,73.8 47.1,72.1Z"/>
<path d="M-1.0,76.9C0.3,74.7 4.8,75.3 6.7,76.0C8.7,76.6 10.3,78.8 10.6,80.8C10.9,82.7 9.9,85.9 8.7,87.5C7.4,89.1 4.5,90.1 2.9,90.4C1.3,90.7 -0.3,91.7 -1.0,89.4C-1.6,87.2 -2.2,79.2 -1.0,76.9Z"/>
<path d="M15.4,79.8C16.7,78.5 19.7,76.4 21.2,76.9C22.6,77.4 23.2,80.4 24.0,82.7C24.8,84.9 25.5,87.3 26.0,90.4C26.4,93.4 29.0,99.2 26.9,101.0C24.8,102.7 16.0,102.7 13.5,101.0C11.0,99.2 12.0,93.1 11.9,90.4C11.9,87.7 12.5,86.4 13.1,84.6C13.7,82.9 14.0,81.1 15.4,79.8Z"/>
<path d="M72.1,85.6C74.2,84.1 76.8,83.2 78.8,83.7C80.9,84.1 82.9,86.7 84.6,88.5C86.3,90.2 88.4,92.1 88.8,94.2C89.3,96.3 91.6,99.8 87.5,101.0C83.4,102.1 67.9,102.4 64.4,101.0C60.9,99.5 65.1,94.9 66.3,92.3C67.6,89.7 70.0,87.0 72.1,85.6Z"/>
<path d="M-1.0,16.3C-0.2,14.9 2.8,14.6 3.8,15.4C4.9,16.2 5.6,19.6 5.4,21.2C5.1,22.8 3.4,24.5 2.3,25.0C1.2,25.5 -0.4,25.5 -1.0,24.0C-1.5,22.6 -1.8,17.8 -1.0,16.3Z"/>
<path d="M11.2,54.8C11.6,53.2 14.2,52.7 15.0,53.8C15.8,55.0 16.2,59.9 15.8,61.5C15.4,63.1 13.3,64.6 12.5,63.5C11.7,62.3 10.7,56.4 11.2,54.8Z"/>
<path d="M84.2,36.5C84.7,35.3 87.5,34.8 88.5,35.6C89.4,36.4 90.5,40.1 90.0,41.3C89.5,42.6 86.5,44.1 85.6,43.3C84.6,42.5 83.8,37.8 84.2,36.5Z"/>
<path d="M43.3,24.0C43.8,23.0 46.9,23.6 47.7,24.6C48.5,25.7 48.7,29.4 48.1,30.4C47.5,31.4 45.0,31.8 44.2,30.8C43.4,29.7 42.7,25.1 43.3,24.0Z"/>
<path d="M44.2,34.6C44.8,34.0 47.5,34.3 48.1,35.0C48.7,35.7 48.3,38.3 47.7,38.8C47.1,39.4 45.2,39.2 44.6,38.5C44.0,37.8 43.7,35.2 44.2,34.6Z"/>
</g>
</svg>
</g>
<g fill="none" stroke="#fff" stroke-width="3">
<circle cx="193.3" cy="559.5" r="10.6"/><path d="M185.8,552 L200.8,567 M200.8,552 L185.8,567"/>
</g>
<circle cx="480.4" cy="559.5" r="10.4" fill="#150003" stroke="#fff" stroke-width="3.2"/>
<circle cx="480.4" cy="559.5" r="5.6" fill="#FBEFF3"/>
</svg></body></html>
